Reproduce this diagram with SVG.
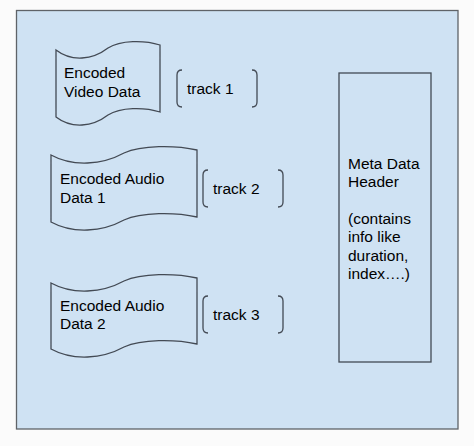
<svg xmlns="http://www.w3.org/2000/svg" width="474" height="446" viewBox="0 0 474 446">
<style>
.bg{fill:#cfe2f3;stroke:#5f6368;stroke-width:1.3}
.shape{fill:#cfe2f3;stroke:#434a54;stroke-width:1.3}
.br{fill:none;stroke:#434a54;stroke-width:1.3}
text{font-family:"Liberation Sans",Arial,sans-serif;font-size:15.5px;fill:#000}
</style>
<rect x="0" y="0" width="474" height="446" fill="#fbfbfb"/>
<g id="container">
<rect class="bg" x="16.5" y="10.5" width="441.5" height="418.5"/>
</g>
<g id="video">
<path class="shape" d="M56,50 C71.6,62 92.4,60 108,48 C120.5,40 144.4,40 160,45 L160,112 C144.4,107 120.5,107 108,115 C92.4,127 71.6,129 56,117 Z"/>
<text x="64" y="78">Encoded</text>
<text x="64" y="97">Video Data</text>
</g>
<g id="audio1">
<path class="shape" d="M51,155 C72.9,167 102.1,165 124,153 C141.5,145 175.1,145 197,150 L197,217 C175.1,212 141.5,212 124,220 C102.1,232 72.9,234 51,222 Z"/>
<text x="60" y="184">Encoded Audio</text>
<text x="60" y="203">Data 1</text>
</g>
<g id="audio2">
<path class="shape" d="M51,283 C72.9,295 102.1,293 124,281 C141.5,273 175.1,273 197,278 L197,344 C175.1,339 141.5,339 124,347 C102.1,359 72.9,361 51,349 Z"/>
<text x="60" y="311">Encoded Audio</text>
<text x="60" y="329">Data 2</text>
</g>
<g id="track1">
<path class="br" d="M182,70 Q177,70 177,75 L177,102 Q177,107 182,107"/>
<path class="br" d="M252,70 Q257,70 257,75 L257,102 Q257,107 252,107"/>
<text x="187" y="94">track 1</text>
</g>
<g id="track2">
<path class="br" d="M208,170 Q203,170 203,175 L203,202 Q203,207 208,207"/>
<path class="br" d="M278,170 Q283,170 283,175 L283,202 Q283,207 278,207"/>
<text x="213" y="194">track 2</text>
</g>
<g id="track3">
<path class="br" d="M208,296 Q203,296 203,301 L203,328 Q203,333 208,333"/>
<path class="br" d="M278,296 Q283,296 283,301 L283,328 Q283,333 278,333"/>
<text x="213" y="320">track 3</text>
</g>
<g id="meta">
<rect class="shape" x="339" y="73" width="92" height="289"/>
<text x="348" y="169">Meta Data</text>
<text x="348" y="187">Header</text>
<text x="348" y="224">(contains</text>
<text x="348" y="242">info like</text>
<text x="348" y="261">duration,</text>
<text x="348" y="279">index….)</text>
</g>
<g id="connectors"></g>
</svg>
